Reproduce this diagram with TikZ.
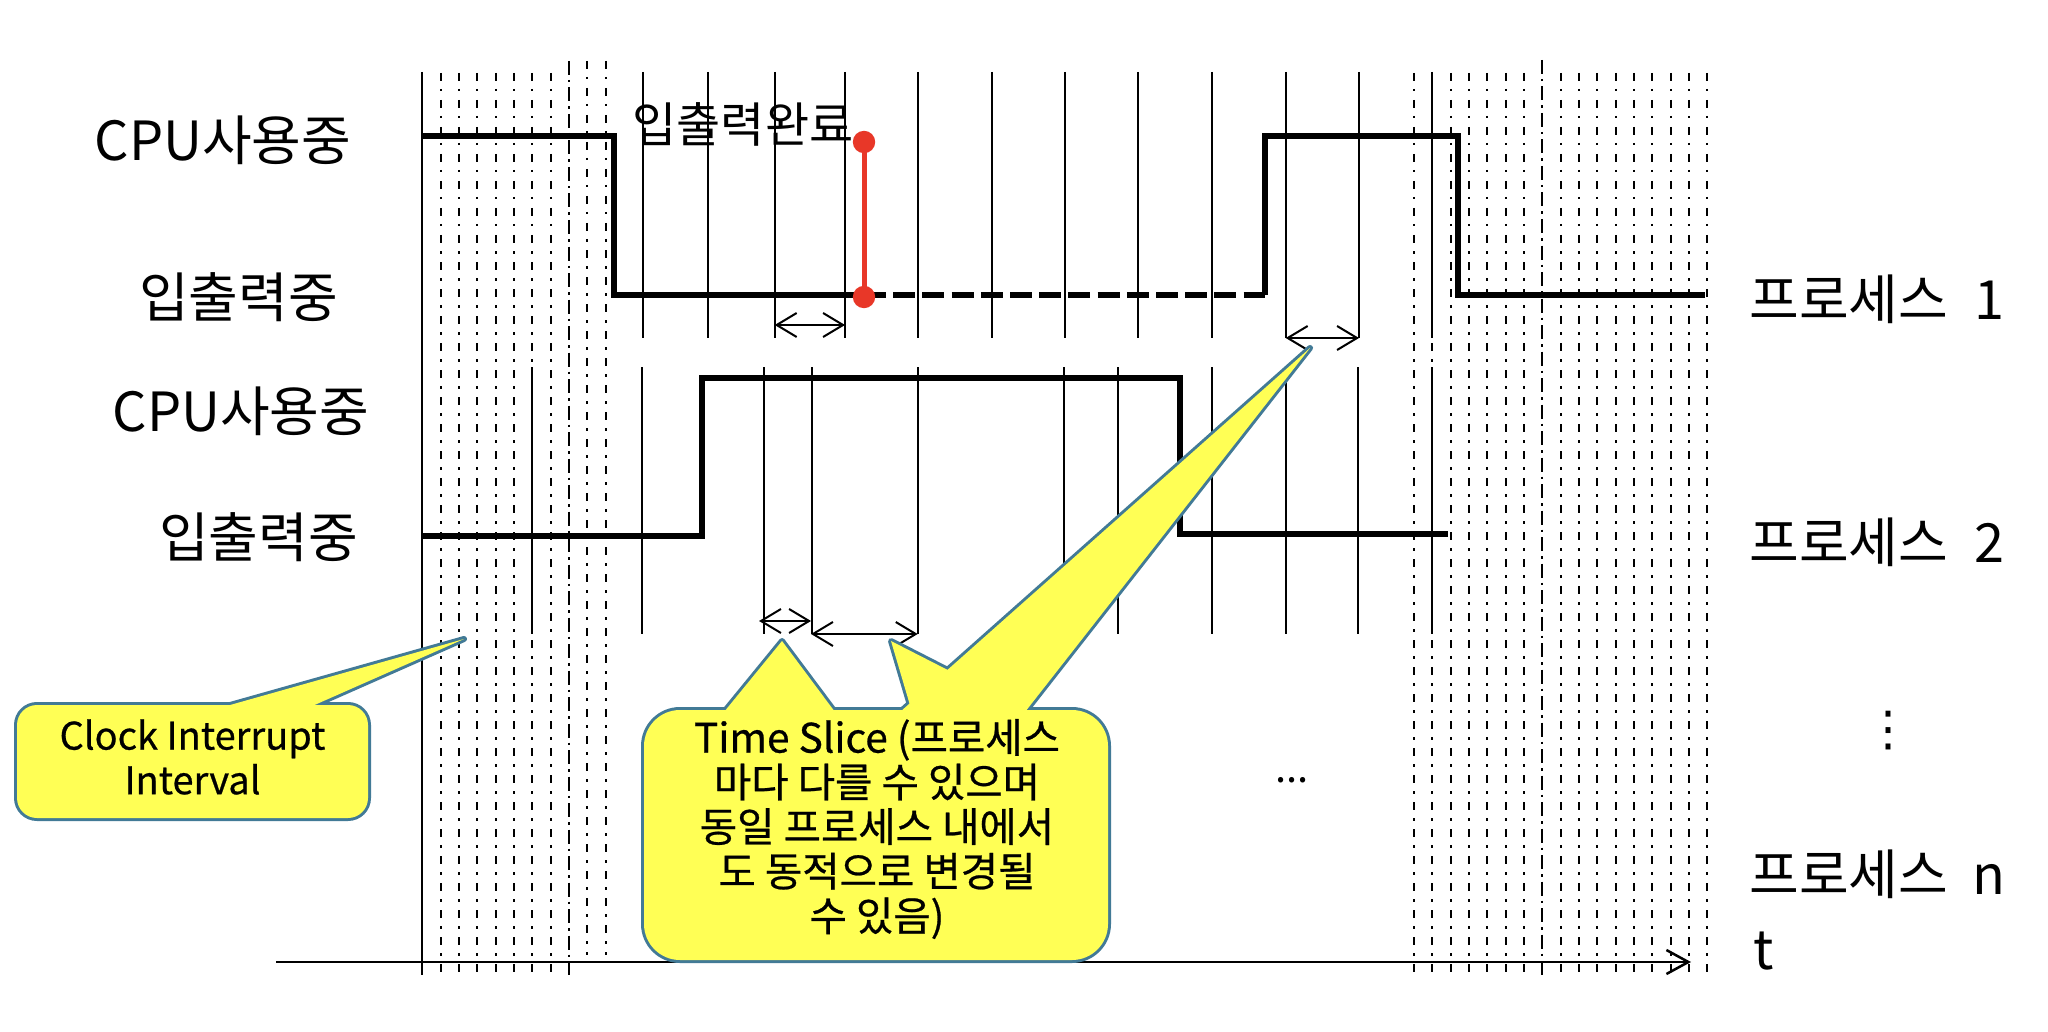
\documentclass[tikz,border=0pt]{standalone}
\usepackage{fontspec}
\setmainfont{Noto Sans CJK KR}
\newfontfamily\symfont{DejaVu Sans}
\newfontfamily\cfont[FakeBold=0.6]{Noto Sans CJK KR}
\usetikzlibrary{arrows.meta}
\definecolor{cyel}{RGB}{255,255,85}
\definecolor{cbord}{RGB}{66,122,150}
\definecolor{cred}{RGB}{232,55,40}
\begin{document}
\begin{tikzpicture}[x=0.5pt,y=-0.5pt,
  tline/.style={line width=0.85pt},
  clk/.style={line width=0.9pt, dash pattern=on 4pt off 4pt on 1.25pt off 4.25pt},
  clklong/.style={line width=0.9pt, dash pattern=on 7pt off 2.5pt on 1.25pt off 2.5pt},
  state/.style={line width=3.3pt, line join=miter},
  tarrow/.style={line width=1pt, {Straight Barb[length=10pt,width=12pt]}-{Straight Barb[length=10pt,width=12pt]}},
  lab/.style={font=\fontsize{27pt}{31pt}\selectfont, inner sep=0pt},
  plab/.style={font=\fontsize{27pt}{31pt}\selectfont, inner sep=0pt, anchor=west},
  ctext/.style={font=\cfont\fontsize{19pt}{22.3pt}\selectfont, inner sep=0pt, align=center},
  cout/.style={draw=cbord, line width=3pt, line join=round},
  cfill/.style={fill=cyel}
]
\useasboundingbox (0,0) rectangle (2048,1032);

% clock interrupt lines, left group
\draw[tline] (421.7,72) -- (421.7,975);
\foreach \x in {440.7,459,477.3,495.7,514,532.3,550.7}
  \draw[clk] (\x,73) -- (\x,975);
\draw[clklong] (569,61) -- (569,975);
\foreach \x in {587.3,605.7}
  \draw[clk] (\x,61) -- (\x,955);
% right group
\foreach \x in {1414,1432.3,1450.7,1469,1487.3,1505.7,1524}
  \draw[clk] (\x,73) -- (\x,975);
\draw[clklong] (1542.3,60) -- (1542.3,975);
\foreach \x in {1560.7,1579,1597.3,1615.7,1634,1652.3,1670.7,1689,1707.3}
  \draw[clk] (\x,73) -- (\x,975);

% band lines
\foreach \x in {642.7,708.3,774.7,845,918.3,991.7,1065,1138.3,1212.3,1285.7,1359,1432.3}
  \draw[tline] (\x,72) -- (\x,338);
\foreach \x in {532.3,642.3,763.7,812,917.7,1064.3,1118.3,1211.7,1285.7,1358.3,1432.3}
  \draw[tline] (\x,367) -- (\x,634);

% time axis
\coordinate (ax0) at (276,962);
\coordinate (ax1) at (1691,962);
\draw[line width=1.25pt, -{Straight Barb[length=11pt,width=12pt]}] (ax0) -- (ax1);

% process 1
\draw[state] (421.7,136) -- (614,136) -- (614,295) -- (864,295);
\draw[state, dash pattern=on 11pt off 3.6pt] (864,295) -- (1265,295);
\draw[state] (1265,295) -- (1265,136) -- (1458,136) -- (1458,295) -- (1705,295);
% process 2
\draw[state] (421.7,536) -- (702,536) -- (702,378) -- (1180,378) -- (1180,534) -- (1448,534);

% I/O completion
\coordinate (r0) at (864,142);
\coordinate (r1) at (864,297);
\draw[cred, line width=2.5pt] (r0) -- (r1);
\fill[cred] (r0) circle[radius=5.6pt];
\fill[cred] (r1) circle[radius=5.6pt];

% time slice arrows
\coordinate (a1) at (774.7,325); \coordinate (a2) at (845,325);
\coordinate (b1) at (1285.7,338); \coordinate (b2) at (1359,338);
\coordinate (c1) at (759,621); \coordinate (c2) at (811,621);
\coordinate (d1) at (811,634); \coordinate (d2) at (917.7,634);
\draw[tarrow] (a1) -- (a2);
\draw[tarrow] (b1) -- (b2);
\draw[tarrow] (c1) -- (c2);
\draw[tarrow] (d1) -- (d2);

% callout 1
\draw[cout, rounded corners=10pt] (17,705) rectangle (368,818);
\draw[cout] (223,707) -- (464,639) -- (310,707) -- cycle;
\fill[cfill, rounded corners=10pt] (17,705) rectangle (368,818);
\fill[cfill] (223,707) -- (464,639) -- (310,707) -- cycle;

% callout 2
\draw[cout, rounded corners=18pt] (644,710) rectangle (1108,960);
\draw[cout] (724,712) -- (782,641) -- (835,712) -- cycle;
\draw[cout] (912,712) -- (891,641) -- (1030,712) -- cycle;
\draw[cout] (900,712) -- (1310,348) -- (1025,712) -- cycle;
\fill[cfill, rounded corners=18pt] (644,710) rectangle (1108,960);
\fill[cfill] (724,712) -- (782,641) -- (835,712) -- cycle;
\fill[cfill] (912,712) -- (891,641) -- (1030,712) -- cycle;
\fill[cfill] (900,712) -- (1310,348) -- (1025,712) -- cycle;

% texts
\node[lab] (l1) at (223,140) {CPU사용중};
\node[lab] (l2) at (238.5,297) {입출력중};
\node[lab] (l3) at (241,411) {CPU사용중};
\node[lab] (l4) at (258.5,537) {입출력중};
\node[lab, font=\fontsize{24pt}{28pt}\selectfont] (io) at (743,124) {입출력완료};
\node[plab] (p1) at (1749,299) {프로세스\kern13pt 1};
\node[plab] (p2) at (1749,542) {프로세스\kern13pt 2};
\node[plab] (pn) at (1749,874) {프로세스\kern12pt n};
\node[lab] (t) at (1764,951) {t};
\node[font=\symfont\fontsize{24pt}{28pt}\selectfont, inner sep=0pt] (vd) at (1888,731) {⋮};
\node[font=\fontsize{20pt}{24pt}\selectfont, inner sep=0pt] (hd) at (1292,780) {...};
\node[ctext] (ct1) at (192.5,757) {Clock Interrupt\\Interval};
\node[ctext, font=\cfont\fontsize{20.3pt}{22.3pt}\selectfont] (ct2) at (877,829) {Time Slice (프로세스\\마다 다를 수 있으며\\동일 프로세스 내에서\\도 동적으로 변경될\\수 있음)};
\end{tikzpicture}
\end{document}
